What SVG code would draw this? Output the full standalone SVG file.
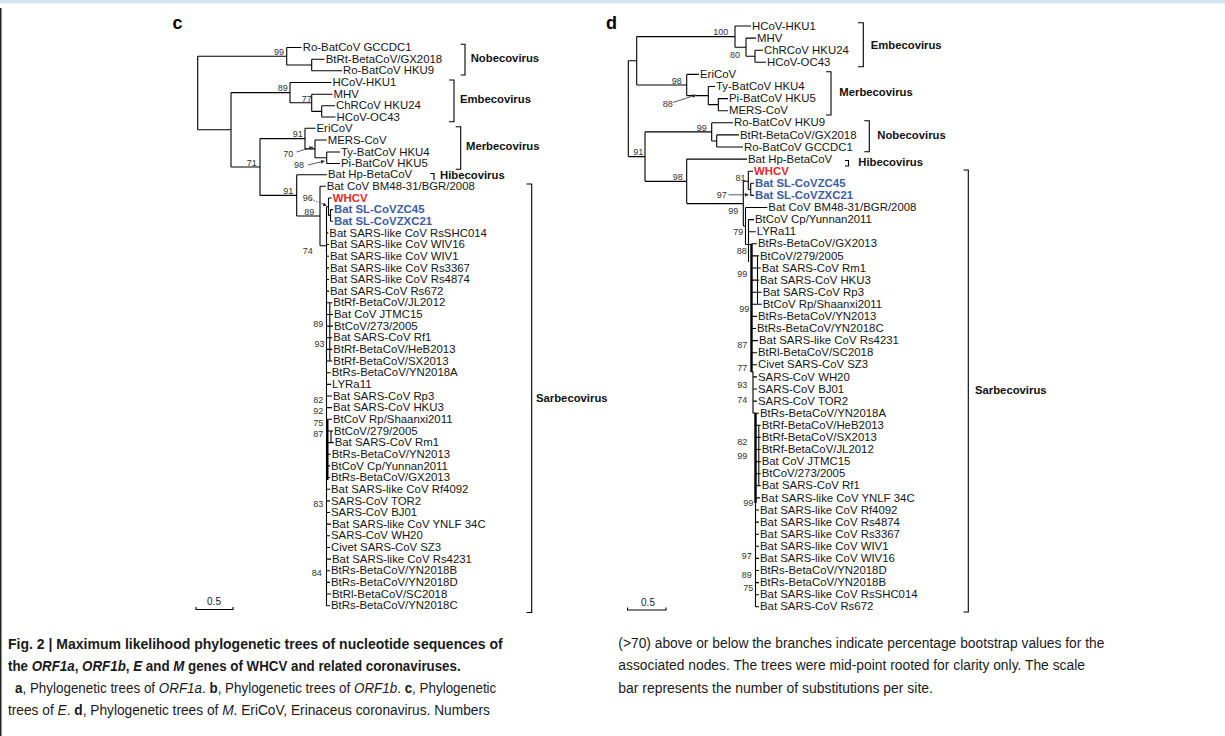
<svg xmlns="http://www.w3.org/2000/svg" width="1225" height="736" viewBox="0 0 1225 736">
<style>
.ln{stroke:#000;stroke-width:1.1;fill:none}
.tk{stroke:#000;stroke-width:2.4;fill:none}
.lf{font-family:"Liberation Sans",Arial,sans-serif;font-size:11.4px;fill:#151515}
.wh{font-family:"Liberation Sans",Arial,sans-serif;font-size:11.4px;font-weight:bold;fill:#e8282d}
.sl{font-family:"Liberation Sans",Arial,sans-serif;font-size:11.4px;font-weight:bold;fill:#3d5ca6}
.bs{font-family:"Liberation Sans",Arial,sans-serif;font-size:9px;fill:#333}
.sc{font-family:"Liberation Sans",Arial,sans-serif;font-size:10px;fill:#222}
.gp{font-family:"Liberation Sans",Arial,sans-serif;font-size:11.3px;font-weight:bold;fill:#111}
.pl{font-family:"Liberation Sans",Arial,sans-serif;font-size:18px;font-weight:bold;fill:#000}
.cap{font-family:"Liberation Sans",Arial,sans-serif;font-size:15px;fill:#1a1a1a}
.b{font-weight:bold}
.i{font-style:italic}
.arr{stroke:#333;stroke-width:0.8;fill:none}
</style>
<defs>
<marker id="ah" viewBox="0 0 6 6" refX="5.5" refY="3" markerWidth="5" markerHeight="5" orient="auto"><path d="M0,0 L6,3 L0,6 z" fill="#333"/></marker>
</defs>
<rect x="0" y="0" width="1225" height="3.5" fill="#d4e4f2"/>
<line x1="0.75" y1="8" x2="0.75" y2="736" stroke="#222" stroke-width="1.5"/>

<g id="panel-c-label"><text class="pl" x="172.5" y="28.5">c</text></g>
<g id="panel-d-label"><text class="pl" x="606" y="28.5">d</text></g>

<g id="connectors">
<!-- tree c -->
<path class="ln" d="M197.7 56.25V129.8M197.7 56.25H286.7M286.7 47.5V65M286.7 47.5H301.5M286.7 65H311.7M311.7 59.3V70.7M311.7 59.3H324.5M311.7 70.7H342
M197.7 129.8H231M231 92.65V167M231 92.65H290M290 82.5V102.8M290 82.5H331.5M290 102.8H311.7M311.7 94.2V111.4M311.7 94.2H332.5M311.7 111.4H321.7M321.7 105.8V117M321.7 105.8H335M321.7 117H335.5
M231 167H260M260 138.6V195.4M260 138.6H305M305 128.3V148.9M305 128.3H315.5M305 148.9H315M315 140V157.75M315 140H326.7M315 157.75H326.7M326.7 152V163.5M326.7 152H340M326.7 163.5H340
M260 195.4H296.7M296.7 174.8V216M296.7 174.8H327M296.7 216H320M320 186.3V245.7M320 186.3H325.7M320 245.7H326.5
M328.5 197.95V215.4M326.5 206.8H328.5M328.5 197.95H331.7M328.5 215.4H330.5M330.5 209.6V221.25M330.5 209.6H333M330.5 221.25H333"/>
<path class="ln" stroke-width="1.5" d="M326.5 206.8V605.7"/>
<path class="tk" d="M327.3 420V480"/>
<path class="ln" d="M329.8 302.8V361.05M331 430.95V442.6
M326.5 232.9H328.3M326.5 244.55H329M326.5 256.2H329M326.5 267.85H329M326.5 279.5H329M326.5 291.15H329M326.5 302.8H332.3M326.5 314.45H333M326.5 326.1H333M326.5 337.75H332.3M326.5 349.4H332.3M326.5 361.05H332.3M326.5 372.7H330.7M326.5 384.35H331M326.5 396H332M326.5 407.65H332M326.5 419.3H332M326.5 430.95H333M326.5 442.6H333.7M326.5 454.25H330.7M326.5 465.9H330M326.5 477.55H330M326.5 489.2H330M326.5 500.85H330M326.5 512.5H330M326.5 524.15H331M326.5 535.8H330M326.5 547.45H330M326.5 559.1H331M326.5 570.75H330M326.5 582.4H330M326.5 594.05H331M326.5 605.7H330"/>
<path class="arr" d="M296.5 152L313 147" marker-end="url(#ah)"/>
<path class="arr" d="M308 165L324.5 161" marker-end="url(#ah)"/>
<path class="arr" stroke-dasharray="1.5,1.5" d="M310.5 199L326.5 205.5" marker-end="url(#ah)"/>
<!-- tree d -->
<path class="ln" d="M628.3 60.8V156.6M628.3 60.8H636.7M636.7 36.6V85M636.7 36.6H735M735 26V47.2M735 26H751M735 47.2H746M746 38.1V56.25M746 38.1H756M746 56.25H755M755 50.2V62.3M755 50.2H763M755 62.3H766
M636.7 85H686.7M686.7 74.4V95.6M686.7 74.4H699M686.7 95.6H708.3M708.3 86.5V104.65M708.3 86.5H715M708.3 104.65H718.3M718.3 98.6V110.7M718.3 98.6H728M718.3 110.7H728
M628.3 156.6H645M645 131.9V181.35M645 131.9H711.7M711.7 122.8V140.95M711.7 122.8H733M711.7 140.95H716.7M716.7 134.9V147M716.7 134.9H739M716.7 147H743
M645 181.35H686.7M686.7 159.1V203.6M686.7 159.1H747M686.7 203.6H743.3M743.3 181.3V226M743.3 181.3H748.3M748.3 171.2V189.45M748.3 171.2H753M748.3 189.45H750.7M750.7 183.3V195.4M750.7 183.3H754M750.7 195.4H754
M743.3 226H745.5M745.5 207.5V244.5M745.5 207.5H767.3M745.5 244.5H751.5M748.5 219.6V262M748.5 219.6H754M748.5 231.7H755.7"/>
<path class="tk" stroke-width="2.2" d="M751.5 243.8V372M755.5 413V503"/>
<path class="ln" d="M751.5 372H753V413H755.5M755.5 503V606.8M757.5 255.9V304.3M758.8 425.3V485.8
M751.5 243.8H757M751.5 255.9H759M751.5 268H760.7M751.5 280.1H759M751.5 292.2H761.7M751.5 304.3H761.7M751.5 316.4H757M751.5 328.5H756M751.5 340.6H758M751.5 352.7H757M751.5 364.8H757
M753 376.9H757M753 389H757M753 401.1H757
M755.5 413.2H759M755.5 425.3H760.7M755.5 437.4H760.7M755.5 449.5H760.7M755.5 461.6H760.7M755.5 473.7H760.7M755.5 485.8H760.7M755.5 497.9H760M755.5 510H759M755.5 522.1H759M755.5 534.2H759M755.5 546.3H759M755.5 558.4H759M755.5 570.5H759M755.5 582.6H759M755.5 594.7H759M755.5 606.8H759"/>
<path class="arr" d="M673 102.5L696 95" marker-end="url(#ah)"/>
<path class="arr" d="M728.5 194.8L748.5 194.8" marker-end="url(#ah)"/>
<!-- brackets -->
<path class="ln" d="M460.7 44.3H465V75H460.7M449 80H454V121.7H449M455.7 126.7H460.7V169.3H455.7M430.5 173.5H434V180M526.5 184H531.7V612.5H526.5"/>
<path class="ln" d="M858 22.7H863.3V66.7H858M826 71.7H831V115H826M864.3 120.7H869.3V151.7H864.3M845 160.5H848.5V166H845M963.5 170H968.3V612H963.5"/>
<!-- scale bars -->
<path class="ln" d="M196 609.5H233M196 607V610M233 607V610M627.5 610H666M627.5 607.5V610.5M666 607.5V610.5"/>
</g>

<g id="tree-c-leaves">
<text class="lf" x="302.7" y="51.1">Ro-BatCoV GCCDC1</text>
<text class="lf" x="325.7" y="62.9">BtRt-BetaCoV/GX2018</text>
<text class="lf" x="343" y="74.3">Ro-BatCoV HKU9</text>
<text class="lf" x="332.5" y="86.1">HCoV-HKU1</text>
<text class="lf" x="333.5" y="97.8">MHV</text>
<text class="lf" x="336" y="109.4">ChRCoV HKU24</text>
<text class="lf" x="336.5" y="120.6">HCoV-OC43</text>
<text class="lf" x="316.5" y="131.9">EriCoV</text>
<text class="lf" x="327.7" y="143.6">MERS-CoV</text>
<text class="lf" x="341" y="155.6">Ty-BatCoV HKU4</text>
<text class="lf" x="341" y="167.1">Pi-BatCoV HKU5</text>
<text class="lf" x="328" y="178.4">Bat Hp-BetaCoV</text>
<text class="lf" x="326.7" y="189.9">Bat CoV BM48-31/BGR/2008</text>
<text class="wh" x="332.7" y="201.6">WHCV</text>
<text class="sl" x="334" y="213.2">Bat SL-CoVZC45</text>
<text class="sl" x="334" y="224.9">Bat SL-CoVZXC21</text>
<text class="lf" x="329.3" y="236.5">Bat SARS-like CoV RsSHC014</text>
<text class="lf" x="330" y="248.2">Bat SARS-like CoV WIV16</text>
<text class="lf" x="330" y="259.8">Bat SARS-like CoV WIV1</text>
<text class="lf" x="330" y="271.5">Bat SARS-like CoV Rs3367</text>
<text class="lf" x="330" y="283.1">Bat SARS-like CoV Rs4874</text>
<text class="lf" x="330" y="294.8">Bat SARS-CoV Rs672</text>
<text class="lf" x="333.3" y="306.4">BtRf-BetaCoV/JL2012</text>
<text class="lf" x="334" y="318.1">Bat CoV JTMC15</text>
<text class="lf" x="334" y="329.7">BtCoV/273/2005</text>
<text class="lf" x="333.3" y="341.4">Bat SARS-CoV Rf1</text>
<text class="lf" x="333.3" y="353">BtRf-BetaCoV/HeB2013</text>
<text class="lf" x="333.3" y="364.7">BtRf-BetaCoV/SX2013</text>
<text class="lf" x="331.7" y="376.3">BtRs-BetaCoV/YN2018A</text>
<text class="lf" x="332" y="388">LYRa11</text>
<text class="lf" x="333" y="399.6">Bat SARS-CoV Rp3</text>
<text class="lf" x="333" y="411.3">Bat SARS-CoV HKU3</text>
<text class="lf" x="333" y="422.9">BtCoV Rp/Shaanxi2011</text>
<text class="lf" x="334" y="434.6">BtCoV/279/2005</text>
<text class="lf" x="334.7" y="446.2">Bat SARS-CoV Rm1</text>
<text class="lf" x="331.7" y="457.9">BtRs-BetaCoV/YN2013</text>
<text class="lf" x="331" y="469.5">BtCoV Cp/Yunnan2011</text>
<text class="lf" x="331" y="481.2">BtRs-BetaCoV/GX2013</text>
<text class="lf" x="331" y="492.8">Bat SARS-like CoV Rf4092</text>
<text class="lf" x="331" y="504.5">SARS-CoV TOR2</text>
<text class="lf" x="331" y="516.1">SARS-CoV BJ01</text>
<text class="lf" x="332" y="527.8">Bat SARS-like CoV YNLF 34C</text>
<text class="lf" x="331" y="539.4">SARS-CoV WH20</text>
<text class="lf" x="331" y="551.1">Civet SARS-CoV SZ3</text>
<text class="lf" x="332" y="562.7">Bat SARS-like CoV Rs4231</text>
<text class="lf" x="331" y="574.4">BtRs-BetaCoV/YN2018B</text>
<text class="lf" x="331" y="586">BtRs-BetaCoV/YN2018D</text>
<text class="lf" x="332" y="597.7">BtRl-BetaCoV/SC2018</text>
<text class="lf" x="331" y="609.3">BtRs-BetaCoV/YN2018C</text>
</g>

<g id="tree-c-bootstrap">
<text class="bs" x="274" y="54.5">99</text>
<text class="bs" x="277.7" y="91">89</text>
<text class="bs" x="301.7" y="101.5">77</text>
<text class="bs" x="292.7" y="136.8">91</text>
<text class="bs" x="283.3" y="156.7">70</text>
<text class="bs" x="294" y="168.3">98</text>
<text class="bs" x="246.7" y="165.5">71</text>
<text class="bs" x="283.3" y="194">91</text>
<text class="bs" x="302.7" y="200.5">96</text>
<text class="bs" x="304.3" y="215">89</text>
<text class="bs" x="302.7" y="254">74</text>
<text class="bs" x="313.3" y="327.3">89</text>
<text class="bs" x="314.5" y="346.7">93</text>
<text class="bs" x="313.3" y="403.3">82</text>
<text class="bs" x="313.3" y="414">92</text>
<text class="bs" x="313.3" y="426">75</text>
<text class="bs" x="313.3" y="437.3">87</text>
<text class="bs" x="313.3" y="507.3">83</text>
<text class="bs" x="311.7" y="576">84</text>
</g>

<g id="tree-c-groups">
<text class="gp" x="470.7" y="62">Nobecovirus</text>
<text class="gp" x="460" y="103">Embecovirus</text>
<text class="gp" x="466" y="150">Merbecovirus</text>
<text class="gp" x="440" y="179">Hibecovirus</text>
<text class="gp" x="536" y="402">Sarbecovirus</text>
</g>

<g id="tree-d-leaves">
<text class="lf" x="752" y="29.6">HCoV-HKU1</text>
<text class="lf" x="757" y="41.7">MHV</text>
<text class="lf" x="764" y="53.8">ChRCoV HKU24</text>
<text class="lf" x="767" y="65.9">HCoV-OC43</text>
<text class="lf" x="700" y="78">EriCoV</text>
<text class="lf" x="716" y="90.1">Ty-BatCoV HKU4</text>
<text class="lf" x="729" y="102.2">Pi-BatCoV HKU5</text>
<text class="lf" x="729" y="114.3">MERS-CoV</text>
<text class="lf" x="734" y="126.4">Ro-BatCoV HKU9</text>
<text class="lf" x="740" y="138.5">BtRt-BetaCoV/GX2018</text>
<text class="lf" x="744" y="150.6">Ro-BatCoV GCCDC1</text>
<text class="lf" x="748" y="162.7">Bat Hp-BetaCoV</text>
<text class="wh" x="754" y="174.8">WHCV</text>
<text class="sl" x="755" y="186.9">Bat SL-CoVZC45</text>
<text class="sl" x="755" y="199">Bat SL-CoVZXC21</text>
<text class="lf" x="768.3" y="211.1">Bat CoV BM48-31/BGR/2008</text>
<text class="lf" x="755" y="223.2">BtCoV Cp/Yunnan2011</text>
<text class="lf" x="756.7" y="235.3">LYRa11</text>
<text class="lf" x="758" y="247.4">BtRs-BetaCoV/GX2013</text>
<text class="lf" x="760" y="259.5">BtCoV/279/2005</text>
<text class="lf" x="761.7" y="271.6">Bat SARS-CoV Rm1</text>
<text class="lf" x="760" y="283.7">Bat SARS-CoV HKU3</text>
<text class="lf" x="762.7" y="295.8">Bat SARS-CoV Rp3</text>
<text class="lf" x="762.7" y="307.9">BtCoV Rp/Shaanxi2011</text>
<text class="lf" x="758" y="320">BtRs-BetaCoV/YN2013</text>
<text class="lf" x="757" y="332.1">BtRs-BetaCoV/YN2018C</text>
<text class="lf" x="759" y="344.2">Bat SARS-like CoV Rs4231</text>
<text class="lf" x="758" y="356.3">BtRl-BetaCoV/SC2018</text>
<text class="lf" x="758" y="368.4">Civet SARS-CoV SZ3</text>
<text class="lf" x="758" y="380.5">SARS-CoV WH20</text>
<text class="lf" x="758" y="392.6">SARS-CoV BJ01</text>
<text class="lf" x="758" y="404.7">SARS-CoV TOR2</text>
<text class="lf" x="760" y="416.8">BtRs-BetaCoV/YN2018A</text>
<text class="lf" x="761.7" y="428.9">BtRf-BetaCoV/HeB2013</text>
<text class="lf" x="761.7" y="441">BtRf-BetaCoV/SX2013</text>
<text class="lf" x="761.7" y="453.1">BtRf-BetaCoV/JL2012</text>
<text class="lf" x="761.7" y="465.2">Bat CoV JTMC15</text>
<text class="lf" x="761.7" y="477.3">BtCoV/273/2005</text>
<text class="lf" x="761.7" y="489.4">Bat SARS-CoV Rf1</text>
<text class="lf" x="761" y="501.5">Bat SARS-like CoV YNLF 34C</text>
<text class="lf" x="760" y="513.6">Bat SARS-like CoV Rf4092</text>
<text class="lf" x="760" y="525.7">Bat SARS-like CoV Rs4874</text>
<text class="lf" x="760" y="537.8">Bat SARS-like CoV Rs3367</text>
<text class="lf" x="760" y="549.9">Bat SARS-like CoV WIV1</text>
<text class="lf" x="760" y="562">Bat SARS-like CoV WIV16</text>
<text class="lf" x="760" y="574.1">BtRs-BetaCoV/YN2018D</text>
<text class="lf" x="760" y="586.2">BtRs-BetaCoV/YN2018B</text>
<text class="lf" x="760" y="598.3">Bat SARS-like CoV RsSHC014</text>
<text class="lf" x="760" y="610.4">Bat SARS-CoV Rs672</text>
</g>

<g id="tree-d-bootstrap">
<text class="bs" x="713.3" y="35">100</text>
<text class="bs" x="730" y="58.3">80</text>
<text class="bs" x="671.7" y="83.5">98</text>
<text class="bs" x="662.7" y="106.7">88</text>
<text class="bs" x="696.7" y="130.5">99</text>
<text class="bs" x="633.3" y="155">91</text>
<text class="bs" x="672.7" y="179.8">98</text>
<text class="bs" x="735.5" y="180.5">81</text>
<text class="bs" x="716.7" y="197.7">97</text>
<text class="bs" x="728.3" y="214">99</text>
<text class="bs" x="733.3" y="235">79</text>
<text class="bs" x="736.7" y="254.3">88</text>
<text class="bs" x="737.3" y="276.7">99</text>
<text class="bs" x="739.3" y="311.7">99</text>
<text class="bs" x="737.3" y="347.7">87</text>
<text class="bs" x="737.3" y="371">77</text>
<text class="bs" x="737.3" y="388.3">93</text>
<text class="bs" x="737.3" y="403.3">74</text>
<text class="bs" x="737.3" y="445">82</text>
<text class="bs" x="737.3" y="459">99</text>
<text class="bs" x="743.3" y="506">99</text>
<text class="bs" x="741.7" y="559.3">97</text>
<text class="bs" x="741.7" y="578.3">89</text>
<text class="bs" x="743.3" y="591">75</text>
</g>

<g id="tree-d-groups">
<text class="gp" x="870.7" y="49">Embecovirus</text>
<text class="gp" x="839.3" y="95.7">Merbecovirus</text>
<text class="gp" x="877.3" y="139">Nobecovirus</text>
<text class="gp" x="858.3" y="165.5">Hibecovirus</text>
<text class="gp" x="975" y="394">Sarbecovirus</text>
</g>

<g id="scale-bars">
<text class="sc" x="214" y="604.5" text-anchor="middle">0.5</text>
<text class="sc" x="648" y="605.5" text-anchor="middle">0.5</text>
</g>

<g id="caption">
<text class="cap b" transform="translate(8,649) scale(0.935,1)">Fig. 2 | Maximum likelihood phylogenetic trees of nucleotide sequences of</text>
<text class="cap b" transform="translate(8,671) scale(0.889,1)">the <tspan class="i">ORF1a</tspan>, <tspan class="i">ORF1b</tspan>, <tspan class="i">E</tspan> and <tspan class="i">M</tspan> genes of WHCV and related coronaviruses.</text>
<text class="cap" transform="translate(15,693) scale(0.894,1)"><tspan class="b">a</tspan>, Phylogenetic trees of <tspan class="i">ORF1a</tspan>. <tspan class="b">b</tspan>, Phylogenetic trees of <tspan class="i">ORF1b</tspan>. <tspan class="b">c</tspan>, Phylogenetic</text>
<text class="cap" transform="translate(8,714.5) scale(0.915,1)">trees of <tspan class="i">E</tspan>. <tspan class="b">d</tspan>, Phylogenetic trees of <tspan class="i">M</tspan>. EriCoV, Erinaceus coronavirus. Numbers</text>
<text class="cap" transform="translate(618.3,648) scale(0.921,1)">(&gt;70) above or below the branches indicate percentage bootstrap values for the</text>
<text class="cap" transform="translate(618.3,670) scale(0.9226,1)">associated nodes. The trees were mid-point rooted for clarity only. The scale</text>
<text class="cap" transform="translate(618.3,692.5) scale(0.9306,1)">bar represents the number of substitutions per site.</text>
</g>
</svg>
